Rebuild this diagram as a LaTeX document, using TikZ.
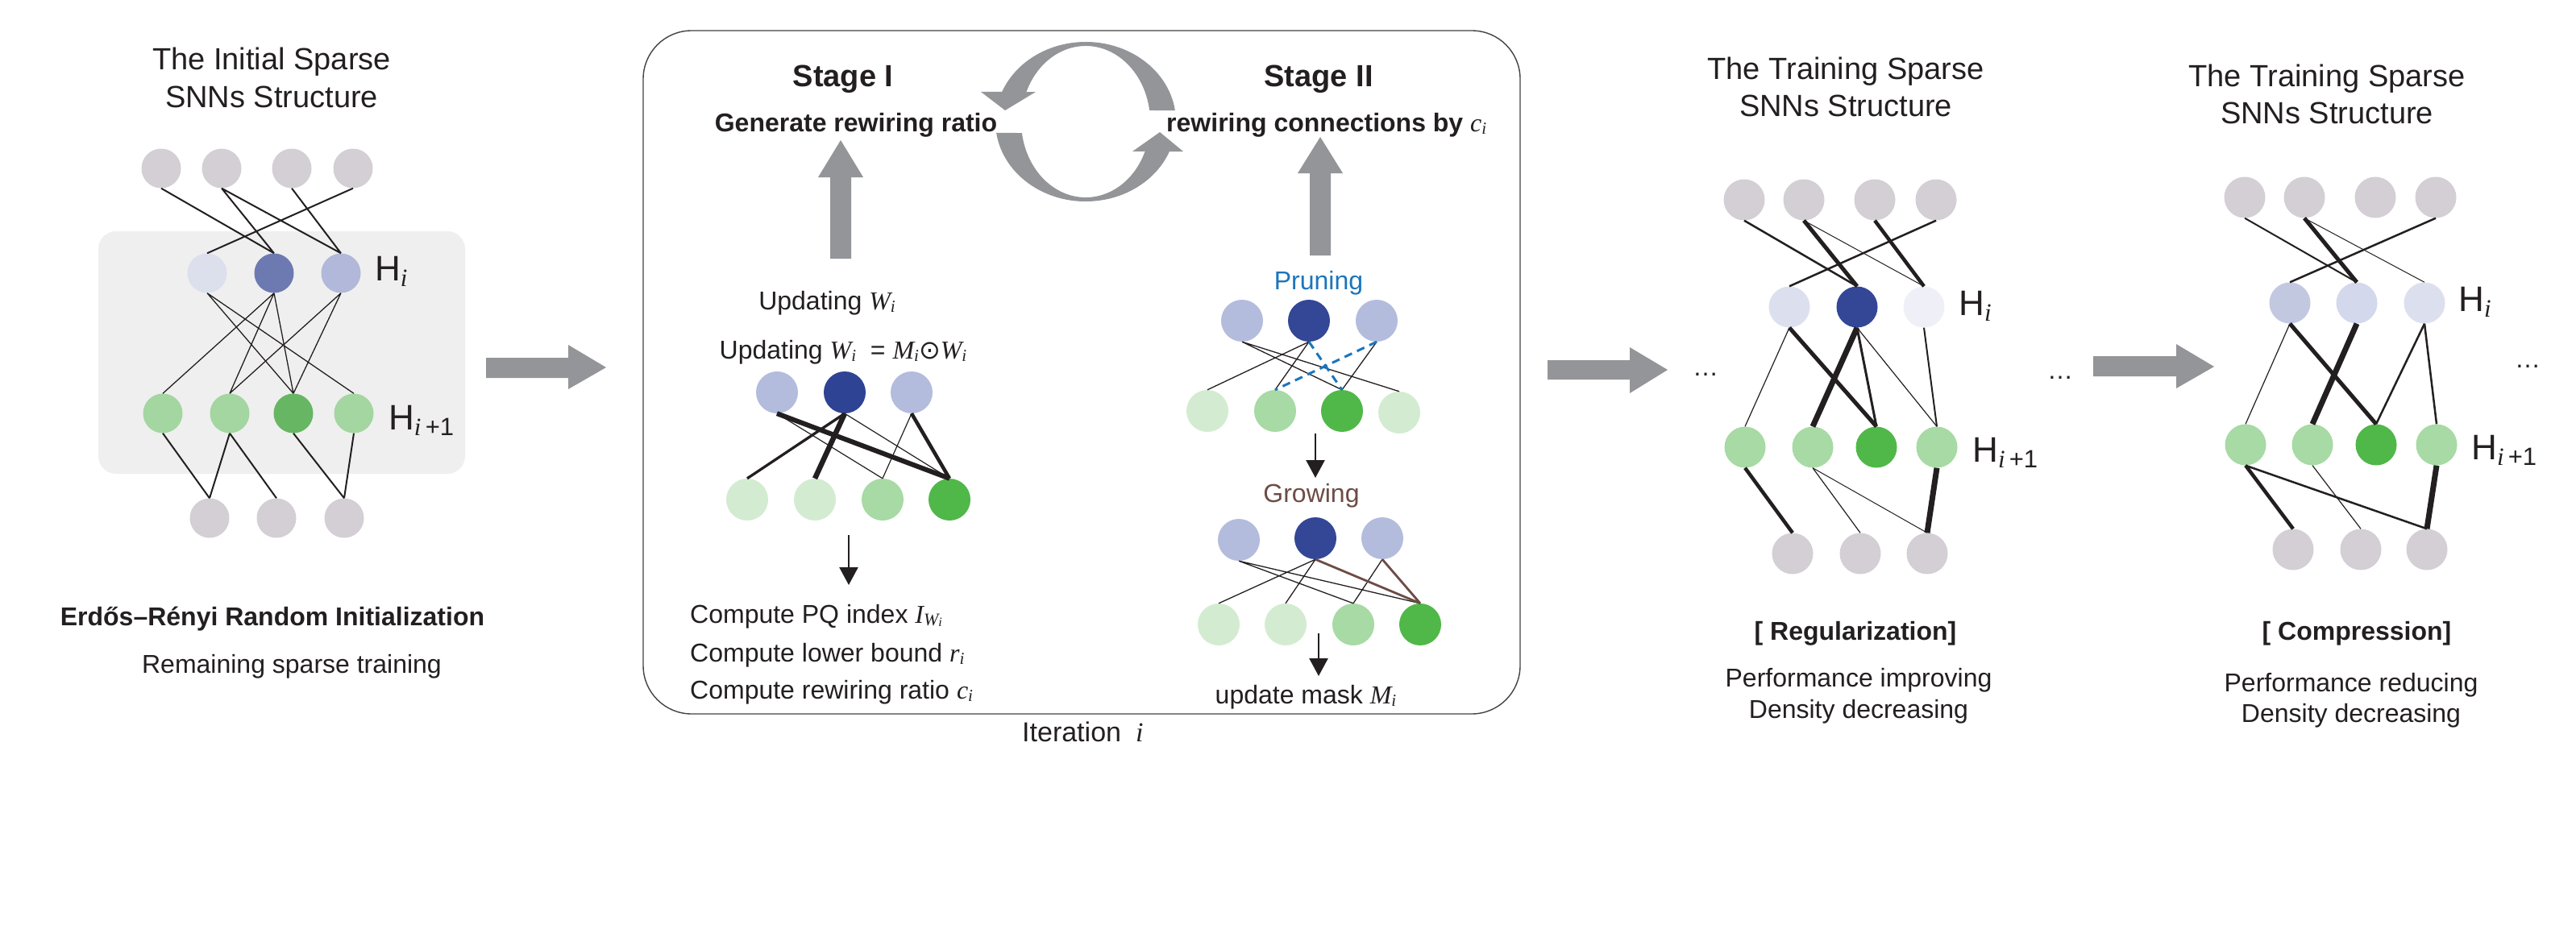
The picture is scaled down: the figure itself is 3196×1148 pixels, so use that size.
\documentclass[tikz,border=0pt]{standalone}
\usepackage{fontspec}
\setmainfont{Liberation Sans}
\newfontfamily\tnrfont{Liberation Serif}
\newfontfamily\dvfont{DejaVu Sans}
\usetikzlibrary{arrows.meta,calc}
\definecolor{ink}{HTML}{231F20}
\definecolor{ngray}{HTML}{D3CFD5}
\definecolor{boxgray}{HTML}{EFEFEF}
\definecolor{agray}{HTML}{939598}
\definecolor{lavA}{HTML}{DCDFEC}
\definecolor{lavB}{HTML}{6D7AB2}
\definecolor{lavC}{HTML}{B1B8D9}
\definecolor{lav}{HTML}{B4BCDD}
\definecolor{navyA}{HTML}{2E4393}
\definecolor{navyB}{HTML}{344796}
\definecolor{grnL}{HTML}{A3D6A0}
\definecolor{grnD}{HTML}{67B663}
\definecolor{grnPale}{HTML}{D3ECD1}
\definecolor{grnMid}{HTML}{A7DAA4}
\definecolor{grnBright}{HTML}{50B848}
\definecolor{pruneblue}{HTML}{1C75BC}
\definecolor{growbrown}{HTML}{6D4C45}
\definecolor{lavP}{HTML}{EFF0F7}
\definecolor{lavQ}{HTML}{DCE0EE}
\definecolor{lavR}{HTML}{C3C8E1}
\definecolor{lavS}{HTML}{D4D8EC}
\newcommand{\vr}[1]{{\tnrfont\mdseries\itshape #1}}
\newcommand{\sbs}[1]{\raisebox{-3pt}{\fontsize{21}{21}\selectfont\vr{#1}}}
\newcommand{\hsub}[1]{\raisebox{-7pt}{\fontsize{31}{31}\selectfont #1}}
\begin{document}
\begin{tikzpicture}[x=1pt,y=-1pt,
  neuron/.style={circle, minimum size=#1, inner sep=0pt, draw=none},
  neuron/.default=50pt,
  lk/.style={line width=#1, draw=ink},
  lk/.default=1.3pt,
  txt/.style={font=\fontsize{32}{38}\selectfont, text=ink, inner sep=0pt, anchor=base},
  ttl/.style={font=\fontsize{38}{46}\selectfont, text=ink, inner sep=0pt, anchor=base},
  btxt/.style={font=\bfseries\fontsize{32}{38}\selectfont, text=ink, inner sep=0pt, anchor=base},
  btt/.style={font=\bfseries\fontsize{38}{46}\selectfont, text=ink, inner sep=0pt, anchor=base},
  hlab/.style={font=\fontsize{44}{50}\selectfont, text=ink, inner sep=0pt, anchor=base west},
  bigarrow/.style={fill=agray, draw=none},
  downarr/.style={draw=ink, line width=2.5pt, -{Triangle[length=22pt,width=23pt]}},
]
\useasboundingbox (0,0) rectangle (3196,1148);
\fill[white] (0,0) rectangle (3196,1148);

% ================= LEFT PANEL =================
\fill[boxgray, rounded corners=22pt] (122,287) rectangle (577,588);
\node[ttl] (ltitA) at (337,86) {The Initial Sparse};
\node[ttl] (ltitB) at (337,133) {SNNs Structure};
\foreach \n/\x in {1/200,2/275,3/362,4/438}
  \node[neuron=49pt, fill=ngray] (lt\n) at (\x,209) {};
\node[neuron=49pt, fill=lavA] (lh1) at (257,339) {};
\node[neuron=49pt, fill=lavB] (lh2) at (340,339) {};
\node[neuron=49pt, fill=lavC] (lh3) at (423,339) {};
\node[neuron=49pt, fill=grnL] (lg1) at (202,513) {};
\node[neuron=49pt, fill=grnL] (lg2) at (285,513) {};
\node[neuron=49pt, fill=grnD] (lg3) at (364,513) {};
\node[neuron=49pt, fill=grnL] (lg4) at (439,513) {};
\foreach \n/\x in {1/260,2/343,3/427}
  \node[neuron=49pt, fill=ngray] (lb\n) at (\x,643) {};
\draw[lk=2pt] (lt1.south)--(lh2.north) (lt2.south)--(lh2.north) (lt2.south)--(lh3.north)
  (lt3.south)--(lh3.north) (lt4.south)--(lh1.north);
\draw[lk=1.3pt] (lh1.south)--(lg3.north) (lh1.south)--(lg4.north) (lh2.south)--(lg1.north)
  (lh2.south)--(lg2.north) (lh2.south)--(lg3.north) (lh3.south)--(lg2.north) (lh3.south)--(lg3.north);
\draw[lk=2pt] (lg1.south)--(lb1.north) (lg2.south)--(lb1.north) (lg2.south)--(lb2.north)
  (lg3.south)--(lb3.north) (lg4.south)--(lb3.north);
\node[hlab] (lHi) at (465,348) {H\hsub{\vr{i}}};
\node[hlab] (lHj) at (482,533) {H\hsub{\vr{i}\,+1}};
\node[btxt] (lerd) at (338,776) {Erdős–Rényi Random Initialization};
\node[txt] (lrem) at (362,835) {Remaining sparse training};

% arrow 1
\fill[bigarrow] (603,444) -- (705,444) -- (705,428) -- (752,456) -- (705,483) -- (705,469) -- (603,469) -- cycle;

% ================= MIDDLE PANEL =================
\draw[draw=ink!85, line width=1.4pt, rounded corners=60pt] (798,38) rectangle (1886,886);
\node[txt, font=\fontsize{34}{40}\selectfont, anchor=base west] (iter) at (1268,920) {Iteration\hspace{18pt}\vr{i}};

% circular arrows
\coordinate (cc) at (1347,151);
\fill[agray] ($(cc)+(-8:112 and 99)$) arc[start angle=-8, end angle=-158, x radius=112, y radius=99]
  -- (1217,114) -- (1247,137) -- (1285,114) -- ($(cc)+(-157:80 and 94)$)
  arc[start angle=-157, end angle=-8.6, x radius=80, y radius=94] -- cycle;
\fill[agray] ($(cc)+(172:112 and 99)$) arc[start angle=172, end angle=22, x radius=112, y radius=99]
  -- (1468,188) -- (1439,164) -- (1405,188) -- ($(cc)+(23:80 and 94)$)
  arc[start angle=23, end angle=171.4, x radius=80, y radius=94] -- cycle;

\node[btt] (s1) at (1046,107) {Stage I};
\node[btxt] (s1sub) at (1062,163) {Generate rewiring ratio};
\node[btt] (s2) at (1636,107) {Stage II};
\node[btxt, anchor=base west] (s2sub) at (1447,163) {rewiring connections by \vr{c}\sbs{i}};

% up arrows
\fill[bigarrow] (1030,321) -- (1030,220) -- (1015,220) -- (1043,174) -- (1071,220) -- (1056,220) -- (1056,321) -- cycle;
\fill[bigarrow] (1625,317) -- (1625,215) -- (1610,215) -- (1638,170) -- (1666,215) -- (1651,215) -- (1651,317) -- cycle;

% Stage I
\node[txt] (upd1) at (1026,384) {Updating \vr{W}\sbs{i}};
\node[txt] (upd2) at (1046,445) {Updating \vr{W}\sbs{i}\ \ = \vr{M}\sbs{i}{\dvfont ⊙}\vr{W}\sbs{i}};
\node[neuron=52pt, fill=lav] (s1t1) at (964,487) {};
\node[neuron=52pt, fill=navyA] (s1t2) at (1048,487) {};
\node[neuron=52pt, fill=lav] (s1t3) at (1131,487) {};
\node[neuron=52pt, fill=grnPale] (s1b1) at (927,620) {};
\node[neuron=52pt, fill=grnPale] (s1b2) at (1011,620) {};
\node[neuron=52pt, fill=grnMid] (s1b3) at (1095,620) {};
\node[neuron=52pt, fill=grnBright] (s1b4) at (1178,620) {};
\draw[lk=6pt] (s1t1.south)--(s1b4.north);
\draw[lk=1.2pt] (s1t1.south)--(s1b3.north);
\draw[lk=3.3pt] (s1t2.south)--(s1b1.north);
\draw[lk=6.5pt] (s1t2.south)--(s1b2.north);
\draw[lk=1.2pt] (s1t2.south)--(s1b4.north);
\draw[lk=1.2pt] (s1t3.south)--(s1b3.north);
\draw[lk=4.5pt] (s1t3.south)--(s1b4.north);
\coordinate (d1a) at (1053,664);
\coordinate (d1b) at (1053,726);
\draw[downarr] (d1a)--(d1b);
\node[txt, anchor=base west] (cmp1) at (856,773) {Compute PQ index \vr{I}\raisebox{-3pt}{\fontsize{22}{22}\selectfont\vr{W}\raisebox{-1pt}{\fontsize{16}{16}\selectfont\vr{i}}}};
\node[txt, anchor=base west] (cmp2) at (856,821) {Compute lower bound \vr{r}\sbs{i}};
\node[txt, anchor=base west] (cmp3) at (856,867) {Compute rewiring ratio \vr{c}\sbs{i}};

% Stage II: pruning
\node[txt, text=pruneblue] (prn) at (1636,359) {Pruning};
\node[neuron=52pt, fill=lav] (pt1) at (1541,398) {};
\node[neuron=52pt, fill=navyB] (pt2) at (1624,398) {};
\node[neuron=52pt, fill=lav] (pt3) at (1708,398) {};
\node[neuron=52pt, fill=grnPale] (pb1) at (1498,510) {};
\node[neuron=52pt, fill=grnMid] (pb2) at (1582,510) {};
\node[neuron=52pt, fill=grnBright] (pb3) at (1665,510) {};
\node[neuron=52pt, fill=grnPale] (pb4) at (1736,512) {};
\draw[lk=1.3pt] (pt1.south)--(pb3.north) (pt1.south)--(pb4.north) (pt2.south)--(pb1.north)
  (pt2.south)--(pb2.north) (pt3.south)--(pb3.north);
\draw[pruneblue, line width=3pt, dash pattern=on 10pt off 7pt] (pt2.south)--(pb3.north) (pt3.south)--(pb2.north);
\coordinate (d2a) at (1632,538);
\coordinate (d2b) at (1632,593);
\draw[downarr] (d2a)--(d2b);

% growing
\node[txt, text=growbrown] (grw) at (1627,623) {Growing};
\node[neuron=52pt, fill=lav] (gt1) at (1537,670) {};
\node[neuron=52pt, fill=navyB] (gt2) at (1632,668) {};
\node[neuron=52pt, fill=lav] (gt3) at (1715,668) {};
\node[neuron=52pt, fill=grnPale] (gb1) at (1512,775) {};
\node[neuron=52pt, fill=grnPale] (gb2) at (1595,775) {};
\node[neuron=52pt, fill=grnMid] (gb3) at (1679,775) {};
\node[neuron=52pt, fill=grnBright] (gb4) at (1762,775) {};
\draw[lk=1.3pt] (gt1.south)--(gb3.north) (gt1.south)--(gb4.north) (gt2.south)--(gb1.north)
  (gt2.south)--(gb2.north) (gt3.south)--(gb3.north);
\draw[growbrown, line width=2.8pt] (gt2.south)--(gb4.north) (gt3.south)--(gb4.north);
\coordinate (d3a) at (1636,786);
\coordinate (d3b) at (1636,839);
\draw[downarr] (d3a)--(d3b);
\node[txt] (upm) at (1620,873) {update mask \vr{M}\sbs{i}};

% arrow 2
\fill[bigarrow] (1920,447) -- (2022,447) -- (2022,431) -- (2069,459) -- (2022,488) -- (2022,471) -- (1920,471) -- cycle;
\node[txt] (dotA) at (2116,466) {…};

% ================= RIGHT PANEL 1 =================
\node[ttl] (r1titA) at (2290,98) {The Training Sparse};
\node[ttl] (r1titB) at (2290,144) {SNNs Structure};
\foreach \n/\x in {1/2164,2/2238,3/2326,4/2402}
  \node[neuron=51pt, fill=ngray] (r1t\n) at (\x,248) {};
\node[neuron=51pt, fill=lavQ] (r1h1) at (2220,381) {};
\node[neuron=51pt, fill=navyB] (r1h2) at (2304,381) {};
\node[neuron=51pt, fill=lavP] (r1h3) at (2387,381) {};
\node[neuron=51pt, fill=grnMid] (r1g1) at (2165,555) {};
\node[neuron=51pt, fill=grnMid] (r1g2) at (2249,555) {};
\node[neuron=51pt, fill=grnBright] (r1g3) at (2328,555) {};
\node[neuron=51pt, fill=grnMid] (r1g4) at (2403,555) {};
\foreach \n/\x in {1/2224,2/2308,3/2391}
  \node[neuron=51pt, fill=ngray] (r1b\n) at (\x,687) {};
\draw[lk=2.5pt] (r1t1.south)--(r1h2.north);
\draw[lk=5pt] (r1t2.south)--(r1h2.north);
\draw[lk=1pt] (r1t2.south)--(r1h3.north);
\draw[lk=4.5pt] (r1t3.south)--(r1h3.north);
\draw[lk=2.5pt] (r1t4.south)--(r1h1.north);
\draw[lk=1.2pt] (r1h1.south)--(r1g1.north);
\draw[lk=5pt] (r1h1.south)--(r1g3.north);
\draw[lk=7pt] (r1h2.south)--(r1g2.north);
\draw[lk=3pt] (r1h2.south)--(r1g3.north);
\draw[lk=1.2pt] (r1h2.south)--(r1g4.north);
\draw[lk=2pt] (r1h3.south)--(r1g4.north);
\draw[lk=4.5pt] (r1g1.south)--(r1b1.north);
\draw[lk=1.2pt] (r1g2.south)--(r1b2.north);
\draw[lk=1pt] (r1g2.south)--(r1b3.north);
\draw[lk=7pt] (r1g4.south)--(r1b3.north);
\node[hlab] (r1Hi) at (2430,391) {H\hsub{\vr{i}}};
\node[hlab] (r1Hj) at (2447,573) {H\hsub{\vr{i}\,+1}};
\node[btxt] (r1reg) at (2302,794) {[ Regularization]};
\node[txt] (r1p) at (2306,852) {Performance improving};
\node[txt] (r1d) at (2306,891) {Density decreasing};
\node[txt] (dotB) at (2556,470) {…};

% arrow 3
\fill[bigarrow] (2597,442) -- (2700,442) -- (2700,427) -- (2747,455) -- (2700,482) -- (2700,467) -- (2597,467) -- cycle;

% ================= RIGHT PANEL 2 =================
\node[ttl] (r2titA) at (2887,107) {The Training Sparse};
\node[ttl] (r2titB) at (2887,153) {SNNs Structure};
\foreach \n/\x in {1/2785,2/2859,3/2947,4/3022}
  \node[neuron=51pt, fill=ngray] (r2t\n) at (\x,245) {};
\node[neuron=51pt, fill=lavR] (r2h1) at (2841,376) {};
\node[neuron=51pt, fill=lavS] (r2h2) at (2924,376) {};
\node[neuron=51pt, fill=lavQ] (r2h3) at (3008,376) {};
\node[neuron=51pt, fill=grnMid] (r2g1) at (2786,552) {};
\node[neuron=51pt, fill=grnMid] (r2g2) at (2869,552) {};
\node[neuron=51pt, fill=grnBright] (r2g3) at (2948,552) {};
\node[neuron=51pt, fill=grnMid] (r2g4) at (3023,552) {};
\foreach \n/\x in {1/2845,2/2929,3/3011}
  \node[neuron=51pt, fill=ngray] (r2b\n) at (\x,682) {};
\draw[lk=2pt] (r2t1.south)--(r2h2.north);
\draw[lk=5pt] (r2t2.south)--(r2h2.north);
\draw[lk=1pt] (r2t2.south)--(r2h3.north);
\draw[lk=2.5pt] (r2t4.south)--(r2h1.north);
\draw[lk=1.2pt] (r2h1.south)--(r2g1.north);
\draw[lk=5pt] (r2h1.south)--(r2g3.north);
\draw[lk=7pt] (r2h2.south)--(r2g2.north);
\draw[lk=2.5pt] (r2h3.south)--(r2g3.north);
\draw[lk=2.5pt] (r2h3.south)--(r2g4.north);
\draw[lk=4.5pt] (r2g1.south)--(r2b1.north);
\draw[lk=2.5pt] (r2g1.south)--(r2b3.north);
\draw[lk=1.2pt] (r2g2.south)--(r2b2.north);
\draw[lk=7pt] (r2g4.south)--(r2b3.north);
\node[hlab] (r2Hi) at (3050,386) {H\hsub{\vr{i}}};
\node[hlab] (r2Hj) at (3066,570) {H\hsub{\vr{i}\,+1}};
\node[btxt] (r2cmp) at (2924,794) {[ Compression]};
\node[txt] (r2p) at (2917,858) {Performance reducing};
\node[txt] (r2d) at (2917,896) {Density decreasing};
\node[txt] (dotC) at (3136,456) {…};
\end{tikzpicture}
\end{document}
